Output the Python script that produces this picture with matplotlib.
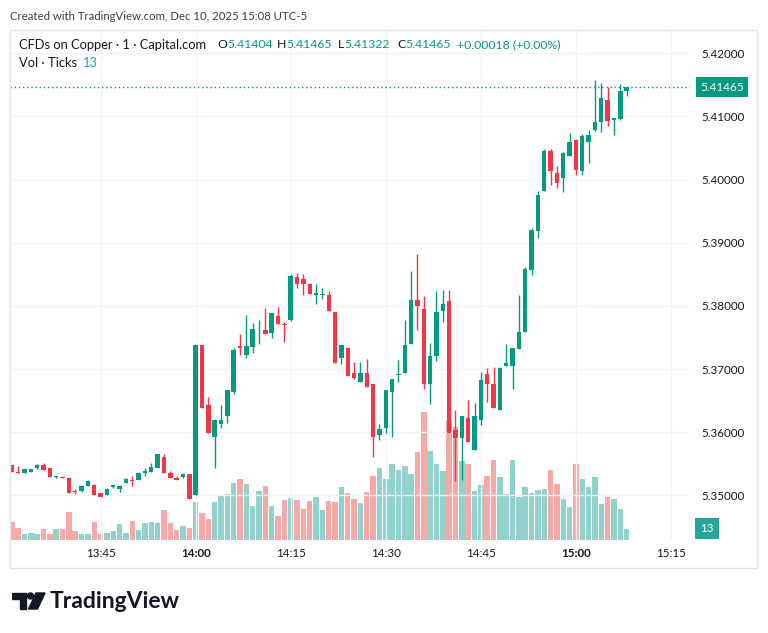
import matplotlib
matplotlib.use('Agg')
import matplotlib.pyplot as plt
import matplotlib.patches as patches
import numpy as np

plt.rcParams['font.family'] = ['Lato', 'DejaVu Sans']

# one-minute candles, first one at 13:31
start_minute = 13 * 60 + 31

opens = [
    5.3548, 5.3537, 5.3536, 5.3537, 5.3543, 5.3548, 5.3544, 5.3529, 5.3529, 5.3527, 5.3507, 5.3507, 5.3515, 5.3517,
    5.3504, 5.3500, 5.3513, 5.3510, 5.3520, 5.3524, 5.3524, 5.3535, 5.3537, 5.3544, 5.3561, 5.3536, 5.3527, 5.3529,
    5.3533, 5.3500, 5.3738, 5.3643, 5.3592, 5.3613, 5.3625, 5.3663, 5.3736, 5.3722, 5.3735, 5.3758, 5.3761, 5.3757,
    5.3784, 5.3771, 5.3777, 5.3845, 5.3842, 5.3834, 5.3817, 5.3818, 5.3817, 5.3791, 5.3717, 5.3733, 5.3693, 5.3680,
    5.3693, 5.3676, 5.3596, 5.3607, 5.3663, 5.3691, 5.3694, 5.3739, 5.3809, 5.3795, 5.3677, 5.3721, 5.3792, 5.3807,
    5.3603, 5.3590, 5.3623, 5.3572, 5.3620, 5.3692, 5.3677, 5.3635, 5.3705, 5.3705, 5.3732, 5.3759, 5.3857, 5.3919,
    5.3982, 5.4045, 5.4011, 5.4003, 5.4038, 5.4063, 5.4013, 5.4059, 5.4078, 5.4091, 5.4126, 5.4095, 5.4096, 5.41404,
]
highs = [
    5.3548, 5.3547, 5.3543, 5.3542, 5.3549, 5.3551, 5.3544, 5.3531, 5.3531, 5.3527, 5.3510, 5.3516, 5.3524, 5.3518,
    5.3504, 5.3512, 5.3516, 5.3516, 5.3527, 5.3531, 5.3537, 5.3543, 5.3551, 5.3565, 5.3565, 5.3538, 5.3531, 5.3536,
    5.3534, 5.3738, 5.3738, 5.3655, 5.3621, 5.3643, 5.3666, 5.3734, 5.3755, 5.3786, 5.3773, 5.3778, 5.3796, 5.3789,
    5.3798, 5.3775, 5.3850, 5.3852, 5.3850, 5.3836, 5.3835, 5.3828, 5.3824, 5.3791, 5.3738, 5.3735, 5.3711, 5.3711,
    5.3716, 5.3676, 5.3613, 5.3666, 5.3684, 5.3715, 5.3778, 5.3855, 5.3882, 5.3815, 5.3741, 5.3824, 5.3825, 5.3825,
    5.3635, 5.3626, 5.3651, 5.3646, 5.3695, 5.3701, 5.3703, 5.3703, 5.3740, 5.3733, 5.3817, 5.3861, 5.3923, 5.3982,
    5.4048, 5.4048, 5.4022, 5.4043, 5.4073, 5.4064, 5.4072, 5.4079, 5.4158, 5.4153, 5.4146, 5.4097, 5.4151, 5.41465,
]
lows = [
    5.3537, 5.3535, 5.3536, 5.3537, 5.3542, 5.3540, 5.3529, 5.3528, 5.3527, 5.3504, 5.3502, 5.3506, 5.3515, 5.3500,
    5.3497, 5.3500, 5.3512, 5.3506, 5.3519, 5.3515, 5.3524, 5.3531, 5.3537, 5.3543, 5.3535, 5.3527, 5.3525, 5.3527,
    5.3494, 5.3500, 5.3638, 5.3598, 5.3544, 5.3606, 5.3614, 5.3660, 5.3722, 5.3718, 5.3725, 5.3740, 5.3755, 5.3749,
    5.3772, 5.3742, 5.3776, 5.3829, 5.3818, 5.3819, 5.3803, 5.3811, 5.3792, 5.3709, 5.3708, 5.3689, 5.3684, 5.3679,
    5.3671, 5.3560, 5.3588, 5.3599, 5.3592, 5.3679, 5.3694, 5.3739, 5.3761, 5.3669, 5.3644, 5.3712, 5.3774, 5.3598,
    5.3522, 5.3524, 5.3584, 5.3572, 5.3611, 5.3647, 5.3638, 5.3635, 5.3705, 5.3669, 5.3732, 5.3759, 5.3849, 5.3908,
    5.3982, 5.3992, 5.3987, 5.3981, 5.4037, 5.4007, 5.4007, 5.4026, 5.4077, 5.4076, 5.4085, 5.4070, 5.4095, 5.41322,
]
closes = [
    5.3537, 5.3535, 5.3542, 5.3541, 5.3548, 5.3540, 5.3529, 5.3530, 5.3528, 5.3504, 5.3505, 5.3515, 5.3522, 5.3500,
    5.3498, 5.3510, 5.3516, 5.3515, 5.3526, 5.3522, 5.3536, 5.3538, 5.3545, 5.3565, 5.3535, 5.3527, 5.3525, 5.3533,
    5.3494, 5.3738, 5.3639, 5.3598, 5.3620, 5.3620, 5.3666, 5.3730, 5.3733, 5.3736, 5.3763, 5.3759, 5.3755, 5.3788,
    5.3772, 5.3769, 5.3847, 5.3834, 5.3834, 5.3819, 5.3820, 5.3819, 5.3792, 5.3709, 5.3738, 5.3689, 5.3685, 5.3693,
    5.3671, 5.3592, 5.3605, 5.3666, 5.3684, 5.3692, 5.3738, 5.3810, 5.3799, 5.3677, 5.3721, 5.3791, 5.3803, 5.3598,
    5.3590, 5.3626, 5.3584, 5.3626, 5.3683, 5.3677, 5.3639, 5.3702, 5.3709, 5.3733, 5.3759, 5.3858, 5.3920, 5.3976,
    5.4045, 5.4013, 5.3995, 5.4042, 5.4060, 5.4015, 5.4069, 5.4071, 5.4091, 5.4129, 5.4093, 5.4097, 5.4140, 5.41465,
]
volumes = [
    21, 14, 7, 8, 7, 13, 7, 13, 13, 32, 10, 7, 7, 21,
    7, 8, 10, 18, 8, 22, 11, 20, 21, 20, 34, 19, 11, 16,
    14, 44, 31, 24, 44, 51, 53, 66, 70, 65, 39, 56, 62, 39,
    28, 46, 48, 46, 36, 45, 49, 35, 45, 44, 61, 54, 47, 43,
    55, 74, 83, 70, 88, 80, 85, 76, 101, 147, 103, 87, 79, 138,
    130, 91, 88, 56, 63, 74, 92, 72, 53, 92, 50, 61, 54, 57,
    59, 80, 64, 47, 38, 88, 70, 61, 72, 41, 49, 47, 36, 13,
]

tick_minutes = [825, 840, 855, 870, 885, 900, 915]
tick_labels = ['13:45', '14:00', '14:15', '14:30', '14:45', '15:00', '15:15']
bold_labels = ['14:00', '15:00']
price_ticks = [5.35, 5.36, 5.37, 5.38, 5.39, 5.40, 5.41, 5.42]

UP = '#089981'
DOWN = '#f23645'
VOL_UP = '#92d2cc'
VOL_DOWN = '#f7a9a7'
GRID = '#f0f3fa'
TEXT = '#131722'

W, H = 768, 633
fig = plt.figure(figsize=(W / 100, H / 100), dpi=100)


def box(x0, y0, x1, y1):
    # pixel box, origin top-left -> figure fraction rect
    return [x0 / W, 1 - y1 / H, (x1 - x0) / W, (y1 - y0) / H]


# chart frame
fig.patches.append(patches.Rectangle((10 / W, 1 - 568 / H), 747 / W, 538 / H,
                                     transform=fig.transFigure, fill=False,
                                     edgecolor='#e0e3eb', linewidth=1))

x = start_minute + np.arange(len(opens))
o, h, l, c = (np.array(a) for a in (opens, highs, lows, closes))
up = c >= o

# volume pane (behind)
vax = fig.add_axes(box(10, 30, 690, 540))
vax.bar(x, volumes, width=0.86, color=np.where(up, VOL_UP, VOL_DOWN), linewidth=0)
vax.set_xlim(810.71, 918.0)
vax.set_ylim(0, 587)
vax.axis('off')
vax.annotate(str(volumes[-1]), xy=(1, volumes[-1]), xycoords=('axes fraction', 'data'),
             xytext=(10, 0), textcoords='offset pixels', ha='left', va='center',
             color='white', fontsize=8.3,
             bbox=dict(boxstyle='square,pad=0.45', fc='#26a69a', ec='none'),
             annotation_clip=False)

# price pane
ax = fig.add_axes(box(10, 30, 690, 540))
ax.patch.set_visible(False)
col = np.where(up, UP, DOWN)
ax.vlines(x, l, h, colors=col, linewidth=1, zorder=3)
ax.bar(x, np.maximum(np.abs(c - o), 0.00012), bottom=np.minimum(o, c), width=0.7,
       color=col, linewidth=0, zorder=4)
ax.axhline(closes[-1], color=UP, linewidth=1, linestyle=(0, (1, 2)), zorder=2)
ax.annotate(f'{closes[-1]:.5f}', xy=(1, closes[-1]), xycoords=('axes fraction', 'data'),
            xytext=(10, 0), textcoords='offset pixels', ha='left', va='center',
            color='white', fontsize=8.5,
            bbox=dict(boxstyle='square,pad=0.38', fc=UP, ec='none'),
            annotation_clip=False, zorder=6)

ax.set_xlim(810.71, 918.0)
ax.set_ylim(5.34292, 5.42369)
ax.yaxis.tick_right()
ax.set_yticks(price_ticks, [f'{p:.5f}' for p in price_ticks])
ax.set_xticks(tick_minutes, tick_labels)
ax.tick_params(axis='y', length=0, pad=8.5, labelsize=8.4, labelcolor=TEXT)
ax.tick_params(axis='x', length=0, pad=6, labelsize=8.4, labelcolor=TEXT)
for lab in ax.get_xticklabels():
    if lab.get_text() in bold_labels:
        lab.set_fontweight('bold')
ax.grid(True, color=GRID, linewidth=1)
ax.set_axisbelow(True)
for s in ax.spines.values():
    s.set_visible(False)

# header and legend
fig.text(10 / W, 1 - 16 / H, 'Created with TradingView.com, Dec 10, 2025 15:08 UTC-5',
         fontsize=8.2, color='#3b3f4a', va='center')

renderer = fig.canvas.get_renderer()


def put(px, py, s, color, size=9.25):
    t = fig.text(px / W, 1 - py / H, s, color=color, fontsize=size, va='center', ha='left')
    return px + t.get_window_extent(renderer).width


put(19, 45, 'CFDs on Copper · 1 · Capital.com', TEXT)
for px, letter, val in [(217, 'O', opens[-1]), (277, 'H', highs[-1]),
                        (338, 'L', lows[-1]), (397, 'C', closes[-1])]:
    nx = put(px, 45, letter, TEXT, size=8.8)
    put(nx, 45, f'{val:.5f}', UP, size=8.8)
put(457, 45, '+0.00018 (+0.00%)', UP, size=8.8)
nx = put(19, 63, 'Vol · Ticks', TEXT)
put(nx + 6, 63, str(volumes[-1]), '#22ab94')

# logo
lax = fig.add_axes(box(12, 591, 46, 611))
lax.set_xlim(12, 46)
lax.set_ylim(611, 591)
lax.axis('off')
lax.add_patch(patches.Polygon([(12, 593), (26, 593), (26, 609), (20, 609), (20, 599), (12, 599)],
                              closed=True, color=TEXT))
lax.add_patch(patches.Circle((30.5, 596), 3, color=TEXT))
lax.add_patch(patches.Polygon([(36, 593), (45, 593), (37.5, 609), (28.5, 609)],
                              closed=True, color=TEXT))
fig.text(50 / W, 1 - 601 / H, 'TradingView', fontsize=16.5, fontweight='bold',
         color=TEXT, va='center')

fig.savefig('out.png', dpi=100)
